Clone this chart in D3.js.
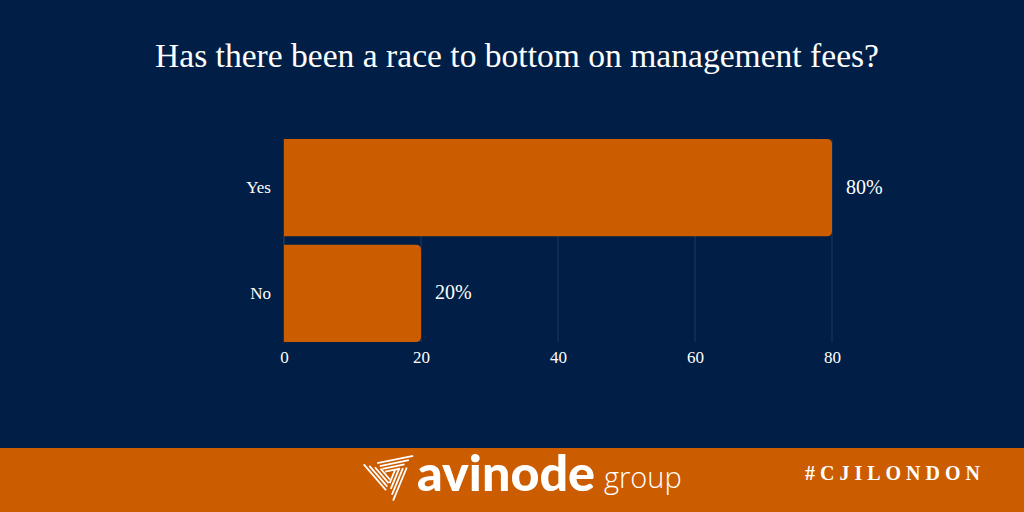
<!DOCTYPE html>
<html>
<head>
<meta charset="utf-8">
<script src="https://cdn.jsdelivr.net/npm/d3@7"></script>
<style>
  body { margin: 0; background: #011f46; }
  svg { display: block; }
</style>
</head>
<body>
<div id="chart"></div>
<script>
const categories = ["Yes", "No"];
const values = [80, 20];
const tickValues = [0, 20, 40, 60, 80];
const title = "Has there been a race to bottom on management fees?";
const hashtag = "#CJILONDON";

const width = 1024, height = 512;
const margin = { top: 139, right: 192, bottom: 170, left: 284 };
const orange = "#cc5c00";
const serif = "'Liberation Serif', 'DejaVu Serif', serif";

const svg = d3.select("#chart").append("svg")
  .attr("width", width)
  .attr("height", height);

svg.append("rect")
  .attr("width", width).attr("height", height)
  .attr("fill", "#011f46");

// title
svg.append("text")
  .attr("x", 517).attr("y", 67)
  .attr("text-anchor", "middle")
  .attr("fill", "#fff")
  .style("font-family", serif)
  .style("font-size", "33px")
  .attr("textLength", 724)
  .attr("lengthAdjust", "spacingAndGlyphs")
  .text(title);

const x = d3.scaleLinear()
  .domain([0, 80])
  .range([margin.left, width - margin.right]);

const y = d3.scaleBand()
  .domain(categories)
  .range([margin.top, height - margin.bottom])
  .paddingInner(0.08);

// grid
svg.append("g")
  .selectAll("line")
  .data(tickValues)
  .join("line")
  .attr("x1", d => x(d)).attr("x2", d => x(d))
  .attr("y1", margin.top).attr("y2", height - margin.bottom)
  .attr("stroke", d => d === 0 ? "#2c4466" : "#1d3a60")
  .attr("stroke-width", 1);

// bars with rounded right end
const r = 5;
function barPath(d, i) {
  const x0 = x(0), x1 = x(d), y0 = y(categories[i]), h = y.bandwidth();
  return `M${x0},${y0}H${x1 - r}Q${x1},${y0} ${x1},${y0 + r}` +
    `V${y0 + h - r}Q${x1},${y0 + h} ${x1 - r},${y0 + h}H${x0}Z`;
}

svg.append("g")
  .selectAll("path")
  .data(values)
  .join("path")
  .attr("d", barPath)
  .attr("fill", orange);

// value labels
svg.append("g")
  .selectAll("text")
  .data(values)
  .join("text")
  .attr("x", d => x(d) + 14)
  .attr("y", (d, i) => y(categories[i]) + y.bandwidth() / 2)
  .attr("dy", "0.3em")
  .attr("fill", "#fff")
  .style("font-family", serif)
  .style("font-size", "20px")
  .text(d => d + "%");

// y axis
const yAxis = svg.append("g")
  .attr("transform", `translate(${margin.left},0)`)
  .call(d3.axisLeft(y).tickSize(0).tickPadding(13));
yAxis.select(".domain").remove();
yAxis.selectAll("text")
  .attr("fill", "#fff")
  .style("font-family", serif)
  .style("font-size", "17px");

// x axis
const xAxis = svg.append("g")
  .attr("transform", `translate(0,${height - margin.bottom})`)
  .call(d3.axisBottom(x).tickValues(tickValues).tickSize(0).tickPadding(9));
xAxis.select(".domain").remove();
xAxis.selectAll("text")
  .attr("fill", "#fff")
  .style("font-family", serif)
  .style("font-size", "17px");

// footer
const footer = svg.append("g").attr("transform", "translate(0,448)");
footer.append("rect")
  .attr("width", width).attr("height", 64)
  .attr("fill", orange);

// logo mark: striped triangle (three stripe groups, pinwheel style)
const tri = [[363, 17], [413, 7], [394, 53]];
const cx = d3.mean(tri, p => p[0]), cy = d3.mean(tri, p => p[1]);
const logo = footer.append("g")
  .attr("fill", "none")
  .attr("stroke", "#fff")
  .attr("stroke-width", 1.8)
  .attr("stroke-linecap", "butt");
tri.forEach((p, i) => {
  const q = tri[(i + 1) % 3];
  const dx = q[0] - p[0], dy = q[1] - p[1];
  const len = Math.hypot(dx, dy);
  let nx = -dy / len, ny = dx / len;
  const mx = (p[0] + q[0]) / 2, my = (p[1] + q[1]) / 2;
  if ((cx - mx) * nx + (cy - my) * ny < 0) { nx = -nx; ny = -ny; }
  d3.range(4).forEach(k => {
    const o = 1 + k * 3.3;
    const t0 = 0.28 + k * 0.04, t1 = 1 - k * 0.1;
    logo.append("line")
      .attr("x1", p[0] + dx * t0 + nx * o).attr("y1", p[1] + dy * t0 + ny * o)
      .attr("x2", p[0] + dx * t1 + nx * o).attr("y2", p[1] + dy * t1 + ny * o);
  });
});

footer.append("text")
  .attr("x", 417).attr("y", 43)
  .attr("fill", "#fff")
  .style("font-family", "'Lato', 'Noto Sans', sans-serif")
  .style("font-weight", 900)
  .style("font-size", "50px")
  .attr("textLength", 178)
  .attr("lengthAdjust", "spacingAndGlyphs")
  .text("avinode");

footer.append("text")
  .attr("x", 604).attr("y", 40)
  .attr("fill", "#fff")
  .style("font-family", "'Open Sans', 'Noto Sans', sans-serif")
  .style("font-weight", 300)
  .style("font-size", "29px")
  .text("group");

footer.append("text")
  .attr("x", 805).attr("y", 32)
  .attr("fill", "#fff")
  .style("font-family", serif)
  .style("font-weight", "bold")
  .style("font-size", "20px")
  .attr("textLength", 175)
  .attr("lengthAdjust", "spacing")
  .text(hashtag);
</script>
</body>
</html>
